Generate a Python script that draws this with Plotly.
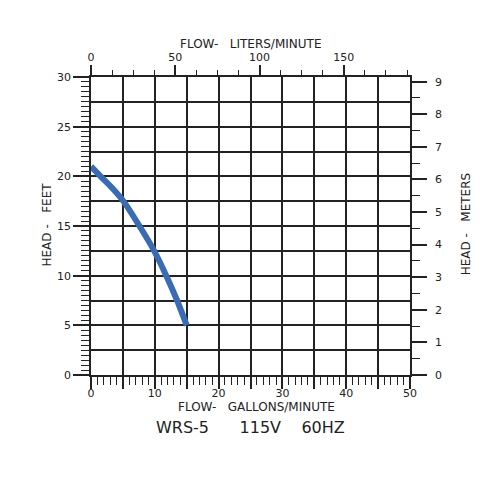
import plotly.graph_objects as go

# pump curve (flow in US gal/min, head in feet)
flow_gpm = [0, 1.5, 3.5, 5.2, 7.6, 9.9, 11.8, 13.5, 15]
head_ft = [21.0, 20.0, 18.7, 17.4, 15.0, 12.5, 10.0, 7.5, 5.0]

gpm_ticks = [0, 5, 10, 15, 20, 25, 30, 35, 40, 45, 50]
gpm_labels = ["0", "", "10", "", "20", "", "30", "", "40", "", "50"]

GPM_TO_LPM = 3.78541
FT_TO_M = 0.3048

INK = "#222222"
FONT = dict(family="DejaVu Sans", size=11, color=INK)
SP = "\u00a0"

fig = go.Figure()
fig.add_trace(
    go.Scatter(
        x=flow_gpm,
        y=head_ft,
        mode="lines",
        line=dict(color="#3a6cb3", width=6, shape="spline", smoothing=0.8),
        showlegend=False,
        hoverinfo="skip",
    )
)

axis_common = dict(showline=True, linecolor=INK, linewidth=1.5, tickcolor=INK,
                   tickwidth=1.5, zeroline=False, tickfont=FONT, automargin=False)

# the page body adds an 8px offset, so the figure is a bit smaller than the window
fig.update_layout(
    width=492,
    height=492,
    margin=dict(l=83, r=90, t=69, b=125),
    plot_bgcolor="white",
    paper_bgcolor="white",
    xaxis=dict(
        range=[0, 50], tickvals=gpm_ticks, ticktext=gpm_labels,
        ticks="outside", ticklen=12, showgrid=True, gridcolor=INK, gridwidth=1.5,
        ticklabelstandoff=-5,
        minor=dict(dtick=1, ticks="outside", ticklen=8, tickcolor=INK, tickwidth=1.2, showgrid=False),
        **axis_common,
    ),
    xaxis2=dict(
        range=[0, 50 * GPM_TO_LPM], overlaying="x", side="top", anchor="y",
        dtick=50, ticks="outside", ticklen=10, showgrid=False,
        minor=dict(dtick=12.5, ticks="outside", ticklen=5, tickcolor=INK, tickwidth=1.2, showgrid=False),
        **axis_common,
    ),
    yaxis=dict(
        range=[0, 30], dtick=5, ticks="outside", ticklen=16, showgrid=False,
        minor=dict(dtick=0.5, ticks="outside", ticklen=8, tickcolor=INK, tickwidth=1.2, showgrid=False),
        **axis_common,
    ),
    yaxis2=dict(
        range=[0, 30 * FT_TO_M], overlaying="y", side="right", anchor="x",
        dtick=1, ticks="outside", ticklen=15, showgrid=False, ticklabelstandoff=6,
        minor=dict(dtick=0.5, ticks="outside", ticklen=8, tickcolor=INK, tickwidth=1.2, showgrid=False),
        **axis_common,
    ),
    yaxis3=dict(
        range=[0, 30], overlaying="y", dtick=2.5, showgrid=True, gridcolor=INK,
        gridwidth=1.5, showticklabels=False, ticks="", zeroline=False, showline=False,
        automargin=False,
    ),
)

# dummy traces so the overlay axes get drawn
fig.add_trace(go.Scatter(x=[None], y=[None], xaxis="x2", yaxis="y2", showlegend=False))
fig.add_trace(go.Scatter(x=[None], y=[None], xaxis="x", yaxis="y3", showlegend=False))

titles = [
    (f"FLOW-{SP}{SP}{SP}LITERS/MINUTE", 0.5, 1.11, 0, 12),
    (f"FLOW-{SP}{SP}{SP}GALLONS/MINUTE", 0.52, -0.106, 0, 12),
    (f"WRS-5{SP}{SP}{SP}{SP}{SP}{SP}115V{SP}{SP}{SP}{SP}60HZ", 0.5, -0.176, 0, 16),
    (f"HEAD{SP}-{SP}{SP}{SP}FEET", -0.138, 0.505, -90, 12),
    (f"HEAD{SP}-{SP}{SP}{SP}METERS", 1.175, 0.505, -90, 12),
]
for text, x, y, angle, size in titles:
    fig.add_annotation(
        text=text, x=x, y=y, xref="paper", yref="paper", showarrow=False,
        xanchor="center", yanchor="middle", textangle=angle,
        font=dict(family="DejaVu Sans", size=size, color=INK),
    )

fig.write_html("out.html")
